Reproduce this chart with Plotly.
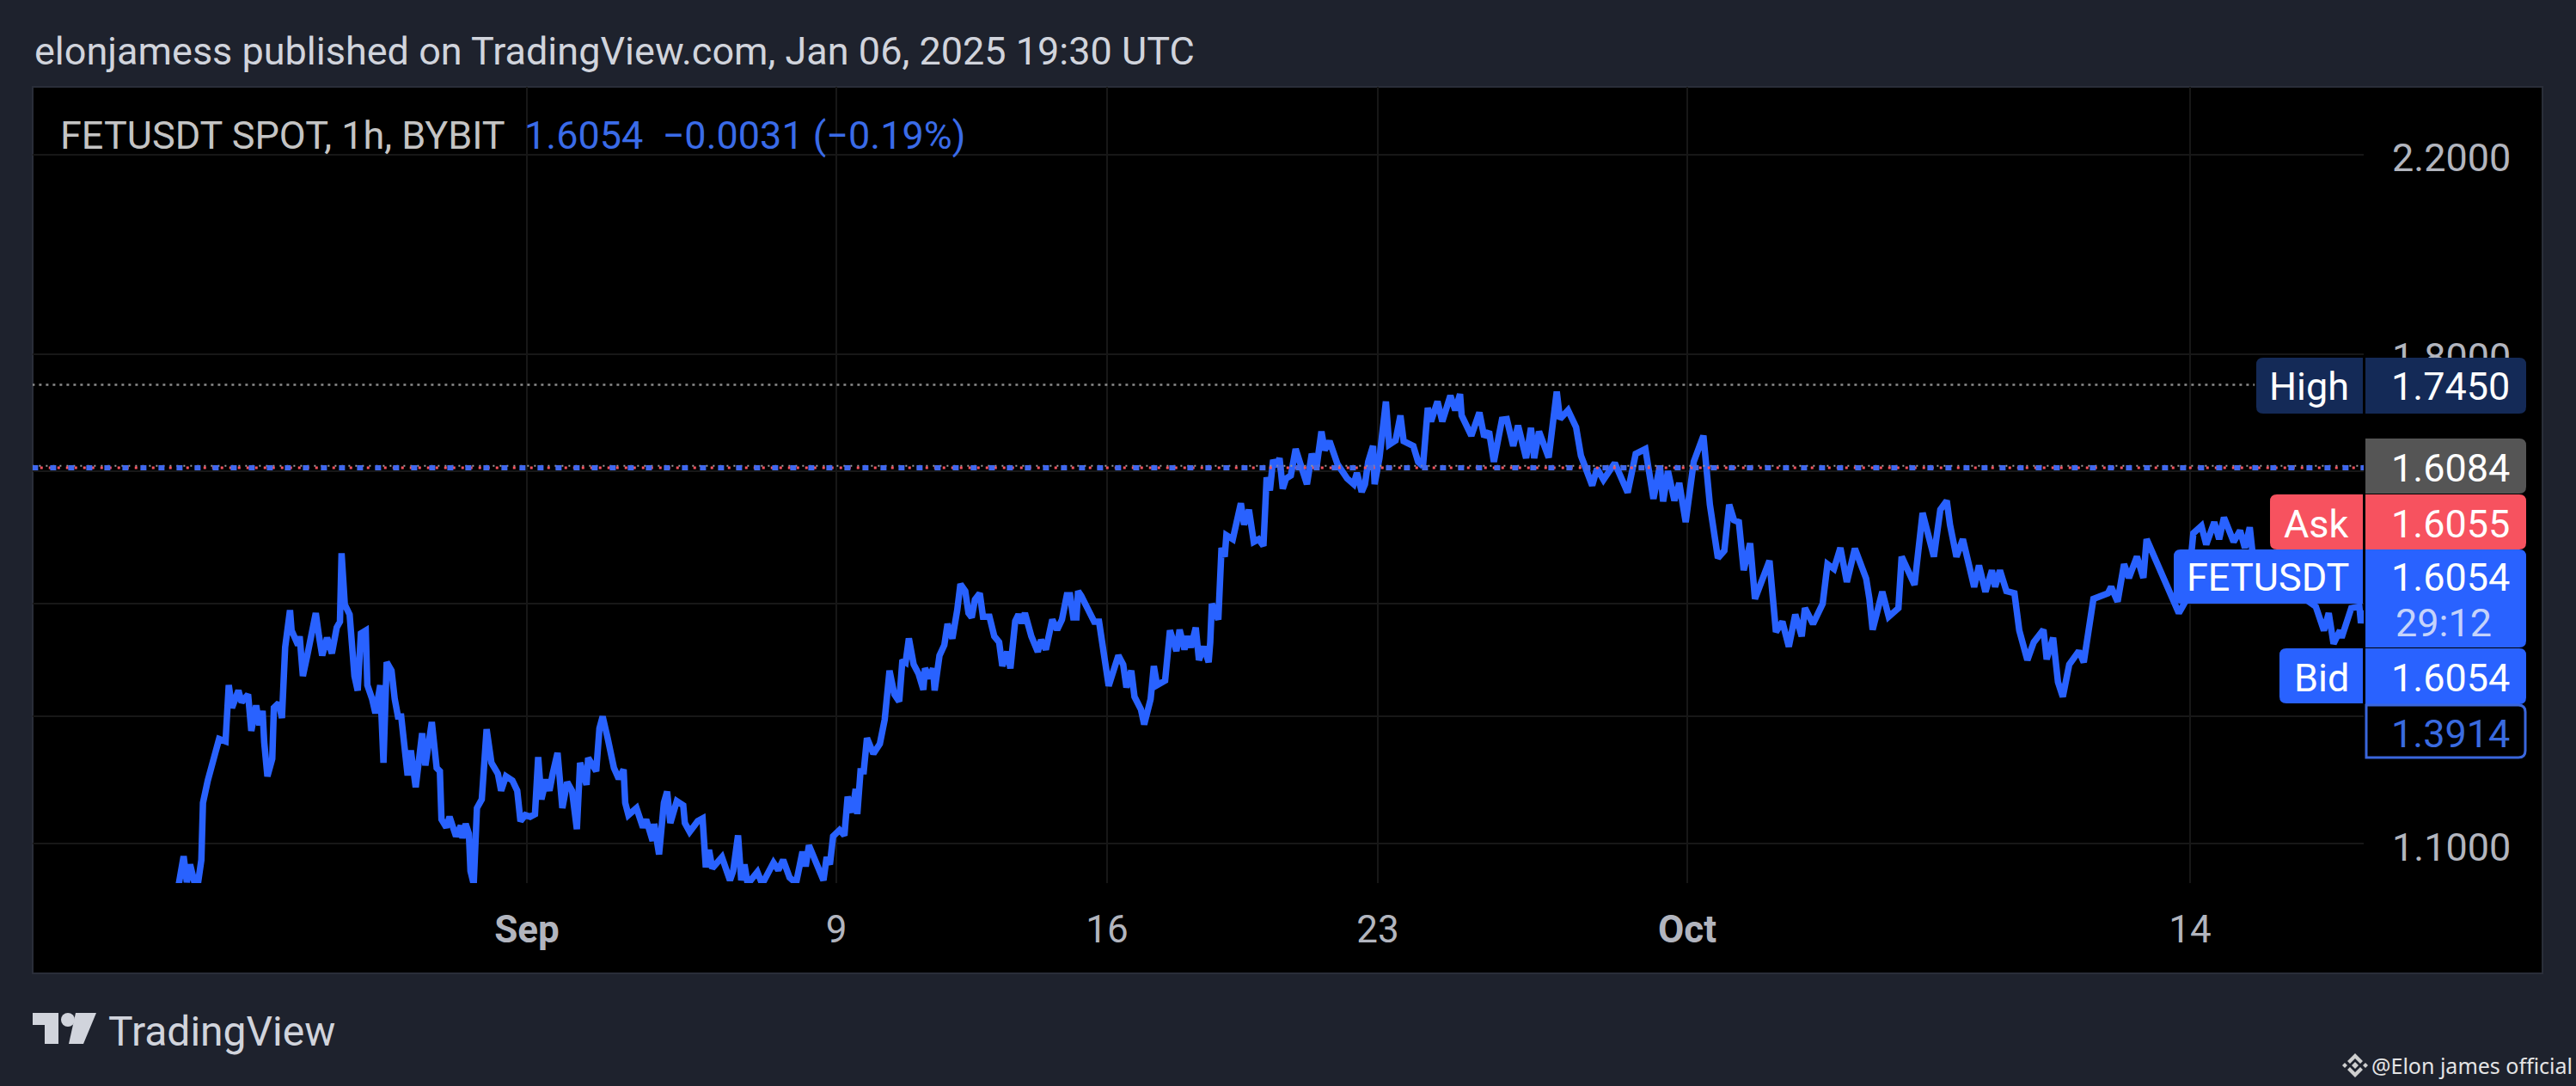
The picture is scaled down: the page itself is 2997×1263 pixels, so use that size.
import pandas as pd
import plotly.graph_objects as go

# FETUSDT 1h close. Hours are counted from 2024-09-01 00:00
hours_aug = [
    -216, -213, -211, -209, -206, -204, -202, -201, -198, -195,
    -193, -191, -187, -185, -183, -179, -177, -173, -171, -168,
    -166, -164, -163, -161, -158, -157, -154, -152, -150, -147,
    -146, -142, -141, -139, -136, -133, -131, -129, -127, -124,
    -121, -118, -116, -115, -113, -110, -109, -107, -105, -103,
    -100, -99, -96, -94, -91, -89, -87, -84, -82, -80,
    -78, -76, -74, -72, -69, -65, -63, -59, -56, -54,
    -53, -50, -48, -44, -41, -40, -38, -36, -35, -33,
    -31, -28, -25, -22, -18, -16, -13, -9, -6, -4,
    -1, 2, 5, 7, 9, 12, 14, 16, 19, 22,
    25, 28, 31, 33, 37, 38, 43, 45, 47, 50,
    52, 54, 57, 60, 61, 63, 68, 72, 74, 78,
    79, 82, 85, 87, 89, 93, 97, 98, 101, 106,
    109, 111, 113, 115, 121, 126, 128, 131, 133, 135,
    137, 143, 146, 153, 156, 159, 163, 167, 171, 173,
    175, 178, 181, 184, 186, 188, 190, 194, 197, 199,
    202, 204, 205, 207,
]
prices_aug = [
    1.056, 1.086, 1.058, 1.077, 1.056, 1.058, 1.082, 1.146, 1.172, 1.193,
    1.214, 1.222, 1.219, 1.290, 1.261, 1.283, 1.268, 1.278, 1.232, 1.264,
    1.239, 1.257, 1.218, 1.177, 1.198, 1.261, 1.267, 1.248, 1.340, 1.391,
    1.363, 1.343, 1.355, 1.302, 1.332, 1.373, 1.387, 1.355, 1.329, 1.353,
    1.332, 1.367, 1.375, 1.473, 1.399, 1.385, 1.347, 1.302, 1.283, 1.359,
    1.363, 1.290, 1.272, 1.254, 1.290, 1.193, 1.320, 1.309, 1.272, 1.250,
    1.250, 1.204, 1.178, 1.208, 1.164, 1.229, 1.190, 1.243, 1.187, 1.183,
    1.127, 1.118, 1.130, 1.108, 1.120, 1.106, 1.122, 1.111, 1.070, 1.056,
    1.140, 1.150, 1.234, 1.193, 1.180, 1.160, 1.177, 1.172, 1.160, 1.125,
    1.132, 1.130, 1.133, 1.200, 1.150, 1.173, 1.160, 1.180, 1.205, 1.140,
    1.170, 1.160, 1.116, 1.193, 1.167, 1.199, 1.183, 1.235, 1.250, 1.224,
    1.204, 1.187, 1.174, 1.185, 1.146, 1.132, 1.140, 1.118, 1.127, 1.103,
    1.122, 1.088, 1.146, 1.159, 1.123, 1.148, 1.143, 1.123, 1.113, 1.125,
    1.128, 1.074, 1.093, 1.073, 1.085, 1.060, 1.070, 1.109, 1.060, 1.077,
    1.056, 1.069, 1.056, 1.079, 1.071, 1.082, 1.063, 1.057, 1.091, 1.075,
    1.098, 1.085, 1.075, 1.060, 1.085, 1.077, 1.108, 1.115, 1.109, 1.153,
    1.135, 1.162, 1.133, 1.183,
]
hours_sep = [
    209, 211, 215, 219, 222, 225, 228, 231, 233, 235,
    237, 240, 243, 246, 247, 250, 252, 253, 256, 259,
    261, 264, 267, 269, 272, 274, 276, 278, 281, 283,
    287, 290, 293, 295, 298, 300, 303, 305, 307, 309,
    313, 317, 319, 322, 326, 329, 332, 335, 337, 339,
    341, 342, 344, 348, 352, 355, 357, 359, 361, 364,
    367, 370, 372, 375, 377, 381, 383, 387, 389, 391,
    396, 399, 403, 405, 408, 410, 412, 415, 417, 420,
    423, 424, 425, 429, 431, 433, 434, 438, 440, 443,
    445, 448, 451, 454, 457, 459, 461, 463, 465, 467,
    469, 471, 474, 477, 480, 484, 487, 490, 493, 495,
    498, 503, 509, 513, 515, 518, 520, 522, 525, 526,
    529, 533, 535, 539, 542, 544, 550, 553, 556, 559,
    561, 565, 568, 573, 576, 579, 580, 586, 591, 594,
    597, 600, 605,
]
prices_sep = [
    1.183, 1.223, 1.204, 1.216, 1.246, 1.309, 1.278, 1.269, 1.323, 1.320,
    1.352, 1.317, 1.305, 1.284, 1.312, 1.299, 1.312, 1.283, 1.329, 1.343,
    1.372, 1.352, 1.391, 1.428, 1.418, 1.387, 1.381, 1.406, 1.415, 1.382,
    1.382, 1.355, 1.347, 1.315, 1.334, 1.312, 1.376, 1.385, 1.373, 1.387,
    1.355, 1.334, 1.350, 1.337, 1.378, 1.364, 1.378, 1.412, 1.412, 1.381,
    1.381, 1.418, 1.411, 1.394, 1.375, 1.375, 1.347, 1.320, 1.289, 1.309,
    1.329, 1.317, 1.287, 1.309, 1.275, 1.259, 1.240, 1.272, 1.315, 1.290,
    1.296, 1.363, 1.335, 1.364, 1.337, 1.355, 1.340, 1.367, 1.323, 1.341,
    1.320, 1.347, 1.400, 1.378, 1.481, 1.468, 1.500, 1.494, 1.516, 1.549,
    1.516, 1.539, 1.490, 1.494, 1.484, 1.590, 1.569, 1.618, 1.607, 1.621,
    1.572, 1.588, 1.593, 1.636, 1.611, 1.579, 1.628, 1.607, 1.665, 1.634,
    1.649, 1.611, 1.588, 1.579, 1.597, 1.567, 1.579, 1.615, 1.641, 1.579,
    1.621, 1.716, 1.643, 1.650, 1.692, 1.649, 1.641, 1.615, 1.608, 1.705,
    1.682, 1.716, 1.682, 1.726, 1.701, 1.729, 1.692, 1.658, 1.697, 1.656,
    1.665, 1.615, 1.685,
]
hours_oct = [
    608, 612, 615, 620, 623, 625, 628, 634, 639, 641,
    646, 651, 654, 661, 664, 668, 675, 683, 688, 694,
    699, 703, 705, 708, 712, 715, 719, 724, 730, 733,
    734, 739, 743, 746, 749, 752, 755, 759, 762, 771,
    775, 779, 783, 787, 791, 793, 798, 804, 807, 811,
    815, 819, 824, 831, 833, 835, 841, 845, 851, 853,
    861, 866, 873, 877, 881, 883, 887, 891, 898, 901,
    905, 909, 911, 914, 918, 923, 926, 931, 935, 941,
    943, 947, 950, 953, 957, 963, 966, 972, 981, 983,
    987, 991, 994, 999, 1003, 1005, 1013, 1018, 1025, 1030,
    1034, 1039, 1042, 1047, 1050, 1053, 1059, 1063, 1066, 1069,
    1071, 1083, 1096, 1110, 1115, 1118, 1121, 1125, 1126, 1132,
    1137, 1138, 1139,
]
prices_oct = [
    1.686, 1.641, 1.675, 1.621, 1.671, 1.621, 1.665, 1.622, 1.733, 1.686,
    1.701, 1.672, 1.625, 1.577, 1.604, 1.586, 1.613, 1.566, 1.628, 1.636,
    1.556, 1.608, 1.552, 1.600, 1.553, 1.581, 1.520, 1.615, 1.658, 1.574,
    1.547, 1.466, 1.477, 1.547, 1.523, 1.520, 1.448, 1.488, 1.407, 1.462,
    1.361, 1.375, 1.341, 1.385, 1.355, 1.394, 1.372, 1.400, 1.457, 1.450,
    1.481, 1.431, 1.480, 1.436, 1.407, 1.364, 1.417, 1.382, 1.394, 1.468,
    1.427, 1.534, 1.468, 1.539, 1.553, 1.516, 1.468, 1.494, 1.424, 1.455,
    1.417, 1.448, 1.424, 1.448, 1.418, 1.415, 1.363, 1.323, 1.347, 1.364,
    1.324, 1.353, 1.294, 1.275, 1.317, 1.335, 1.320, 1.407, 1.415, 1.424,
    1.403, 1.457, 1.437, 1.468, 1.437, 1.494, 1.450, 1.427, 1.387, 1.407,
    1.503, 1.514, 1.486, 1.520, 1.494, 1.527, 1.490, 1.507, 1.481, 1.512,
    1.468, 1.440, 1.418, 1.396, 1.363, 1.387, 1.345, 1.363, 1.353, 1.394,
    1.396, 1.373, 1.391,
]

# axis ticks
y_ticks = [1.1, 1.25, 1.4, 1.6, 1.8, 2.2]
y_labels = ["1.1000", "1.2500", "1.4000", "1.6000", "1.8000", "2.2000"]
x_tick_dates = ["2024-09-01", "2024-09-09", "2024-09-16", "2024-09-23", "2024-10-01", "2024-10-14"]
x_tick_labels = ["<b>Sep</b>", "9", "16", "23", "<b>Oct</b>", "14"]

# price lines
HIGH = 1.7450
PREV_CLOSE = 1.6084
ASK = 1.6055
BID = 1.6054

BG = "#1e222d"
BLUE = "#2962ff"
RED = "#f7525f"
NAVY = "#142a57"
GRID = "#171717"
TEXT = "#d1d4dc"
AXIS_TEXT = "#b2b5be"
FONT = "Roboto"

W, H = 2997, 1263
# pane position in pixels
L, R, T, B = 38, 2750, 101, 1027


def px_x(x):
    return (x - L) / (R - L)


def px_y(y):
    return (B - y) / (B - T)


def box_path(x0, y0, x1, y1, left=False, right=False, r=8):
    """Label box, rounded on the outer side only"""
    rl = r if left else 0
    rr = r if right else 0
    pts = [
        f"M {px_x(x0 + rl)} {px_y(y0)}",
        f"L {px_x(x1 - rr)} {px_y(y0)}",
        f"Q {px_x(x1)} {px_y(y0)} {px_x(x1)} {px_y(y0 + rr)}",
        f"L {px_x(x1)} {px_y(y1 - rr)}",
        f"Q {px_x(x1)} {px_y(y1)} {px_x(x1 - rr)} {px_y(y1)}",
        f"L {px_x(x0 + rl)} {px_y(y1)}",
        f"Q {px_x(x0)} {px_y(y1)} {px_x(x0)} {px_y(y1 - rl)}",
        f"L {px_x(x0)} {px_y(y0 + rl)}",
        f"Q {px_x(x0)} {px_y(y0)} {px_x(x0 + rl)} {px_y(y0)}",
        "Z",
    ]
    return " ".join(pts)


def poly_path(points):
    return "M " + " L ".join(f"{px_x(x)} {px_y(y)}" for x, y in points) + " Z"


def add_box(fig, x0, y0, x1, y1, color, **kw):
    line = kw.pop("line", None)
    fig.add_shape(type="path", path=box_path(x0, y0, x1, y1, **kw), xref="paper", yref="paper",
                  fillcolor=color, line=line or dict(width=0), layer="above")


def add_text(fig, text, x, y, color, size=45, anchor="left", family=FONT):
    fig.add_annotation(text=text, x=px_x(x), y=px_y(y), xref="paper", yref="paper",
                       xanchor=anchor, yanchor="middle", showarrow=False,
                       font=dict(family=family, size=size, color=color))


base = pd.Timestamp("2024-09-01")
hours = hours_aug + hours_sep + hours_oct
prices = prices_aug + prices_sep + prices_oct
times = [base + pd.Timedelta(hours=h) for h in hours]

fig = go.Figure()
fig.add_trace(go.Scatter(x=times, y=prices, mode="lines",
                         line=dict(color=BLUE, width=7.5), hoverinfo="skip", showlegend=False))

# black chart block, wider than the pane because of the price and time scales
fig.add_shape(type="rect", xref="paper", yref="paper", x0=px_x(38), x1=px_x(2958), y0=px_y(1132), y1=px_y(101),
              fillcolor="#000000", line=dict(color="#2a2e39", width=2), layer="below")

# price lines
t0, t1 = base + pd.Timedelta(hours=-307), base + pd.Timedelta(hours=1140)
fig.add_shape(type="line", x0=t0, x1=base + pd.Timedelta(hours=1072), y0=HIGH, y1=HIGH,
              line=dict(color="#8a8a8a", width=2.5, dash="3px,5px"), layer="above")
fig.add_shape(type="line", x0=t0, x1=t1, y0=PREV_CLOSE, y1=PREV_CLOSE,
              line=dict(color="#9a9a9a", width=2, dash="2px,6px"), layer="above")
fig.add_shape(type="line", x0=base + pd.Timedelta(hours=-302), x1=t1, y0=ASK, y1=ASK,
              line=dict(color=RED, width=3, dash="3px,7px"), layer="above")
fig.add_shape(type="line", x0=t0, x1=t1, y0=BID, y1=BID,
              line=dict(color="#3f68ee", width=6, dash="7px,14px"), layer="above")

# labels on the price scale
add_box(fig, 2625, 416, 2749, 481, NAVY, left=True)
add_box(fig, 2752, 416, 2939, 481, NAVY, right=True)
add_box(fig, 2752, 510, 2939, 574, "#555555", right=True)
add_box(fig, 2641, 575, 2749, 639, RED, left=True)
add_box(fig, 2752, 575, 2939, 639, RED, right=True)
add_box(fig, 2529, 639, 2749, 702, BLUE, left=True)
add_box(fig, 2752, 639, 2939, 753, BLUE, right=True)
add_box(fig, 2652, 754, 2749, 818, BLUE, left=True)
add_box(fig, 2752, 754, 2939, 819, BLUE, right=True)
add_box(fig, 2753, 820, 2938, 881, "#000000", right=True, line=dict(color="#3a66dc", width=3))

add_text(fig, "High", 2735, 449, "#ffffff", anchor="right")
add_text(fig, f"{HIGH:.4f}", 2922, 449, "#ffffff", anchor="right")
add_text(fig, f"{PREV_CLOSE:.4f}", 2922, 544, "#ffffff", anchor="right")
add_text(fig, "Ask", 2735, 609, "#ffffff", anchor="right")
add_text(fig, f"{ASK:.4f}", 2922, 609, "#ffffff", anchor="right")
add_text(fig, "FETUSDT", 2735, 671, "#ffffff", anchor="right")
add_text(fig, f"{BID:.4f}", 2922, 671, "#ffffff", anchor="right")
add_text(fig, "29:12", 2785, 724, "#c5d3fb")
add_text(fig, "Bid", 2735, 789, "#ffffff", anchor="right")
add_text(fig, f"{BID:.4f}", 2922, 789, "#ffffff", anchor="right")
add_text(fig, "1.3914", 2922, 853, "#3a6be0", anchor="right")

# header and legend
add_text(fig, "elonjamess published on TradingView.com, Jan 06, 2025 19:30 UTC", 38, 59, TEXT)
add_text(fig, "FETUSDT SPOT, 1h, BYBIT", 68, 158, "#c4c4c4")
add_text(fig, "1.6054  −0.0031 (−0.19%)", 608, 158, "#3a6be8")

# TradingView logo
LOGO = "#d1d4dc"
fig.add_shape(type="path", xref="paper", yref="paper", fillcolor=LOGO, line=dict(width=0),
              path=poly_path([(38, 1178), (68, 1178), (68, 1214), (52, 1214), (52, 1192), (38, 1192)]))
fig.add_shape(type="path", xref="paper", yref="paper", fillcolor=LOGO, line=dict(width=0),
              path=poly_path([(88, 1178), (112, 1178), (97, 1214), (80, 1214)]))
fig.add_shape(type="circle", xref="paper", yref="paper", fillcolor=LOGO, line=dict(width=0),
              x0=px_x(71), x1=px_x(87), y0=px_y(1194), y1=px_y(1178))
add_text(fig, "TradingView", 124, 1199, LOGO, size=48)

# watermark
ICON = "#cfcfcf"
cx, cy = 2740, 1239
for dx, dy, s in [(0, 0, 4), (-12, 0, 3), (12, 0, 3)]:
    fig.add_shape(type="path", xref="paper", yref="paper", fillcolor=ICON, line=dict(width=0),
                  path=poly_path([(cx + dx - s, cy + dy), (cx + dx, cy + dy - s), (cx + dx + s, cy + dy), (cx + dx, cy + dy + s)]))
for sign in (-1, 1):
    fig.add_shape(type="path", xref="paper", yref="paper", fillcolor=ICON, line=dict(width=0),
                  path=poly_path([(cx, cy + sign * 14), (cx + 9, cy + sign * 5), (cx + 6, cy + sign * 2),
                                  (cx, cy + sign * 8), (cx - 6, cy + sign * 2), (cx - 9, cy + sign * 5)]))
add_text(fig, "@Elon james official", 2757, 1239, "#e4e4e4", size=25, family="Noto Sans")

fig.update_layout(
    width=W,
    height=H,
    margin=dict(l=L, r=W - R, t=T, b=H - B),
    paper_bgcolor=BG,
    plot_bgcolor="#000000",
    showlegend=False,
    font=dict(family=FONT),
    xaxis=dict(
        type="date",
        range=[base + pd.Timedelta(hours=-306.67), base + pd.Timedelta(hours=1139.7)],
        tickmode="array",
        tickvals=x_tick_dates,
        ticktext=x_tick_labels,
        tickfont=dict(family=FONT, size=44, color=AXIS_TEXT),
        ticklabelstandoff=24,
        ticks="",
        showgrid=True,
        gridcolor=GRID,
        gridwidth=2,
        showline=False,
        zeroline=False,
    ),
    yaxis=dict(
        type="log",
        side="right",
        range=[0.02411, 0.37200],
        tickmode="array",
        tickvals=y_ticks,
        ticktext=y_labels,
        tickfont=dict(family=FONT, size=45, color=AXIS_TEXT),
        ticklabelstandoff=32,
        ticklabelshift=4,
        ticks="",
        showgrid=True,
        gridcolor=GRID,
        gridwidth=2,
        showline=False,
        zeroline=False,
    ),
)

fig.write_html(
    "out.html",
    config={"displayModeBar": False},
    post_script="document.body.style.margin='0';document.body.style.background='#1e222d';",
)
